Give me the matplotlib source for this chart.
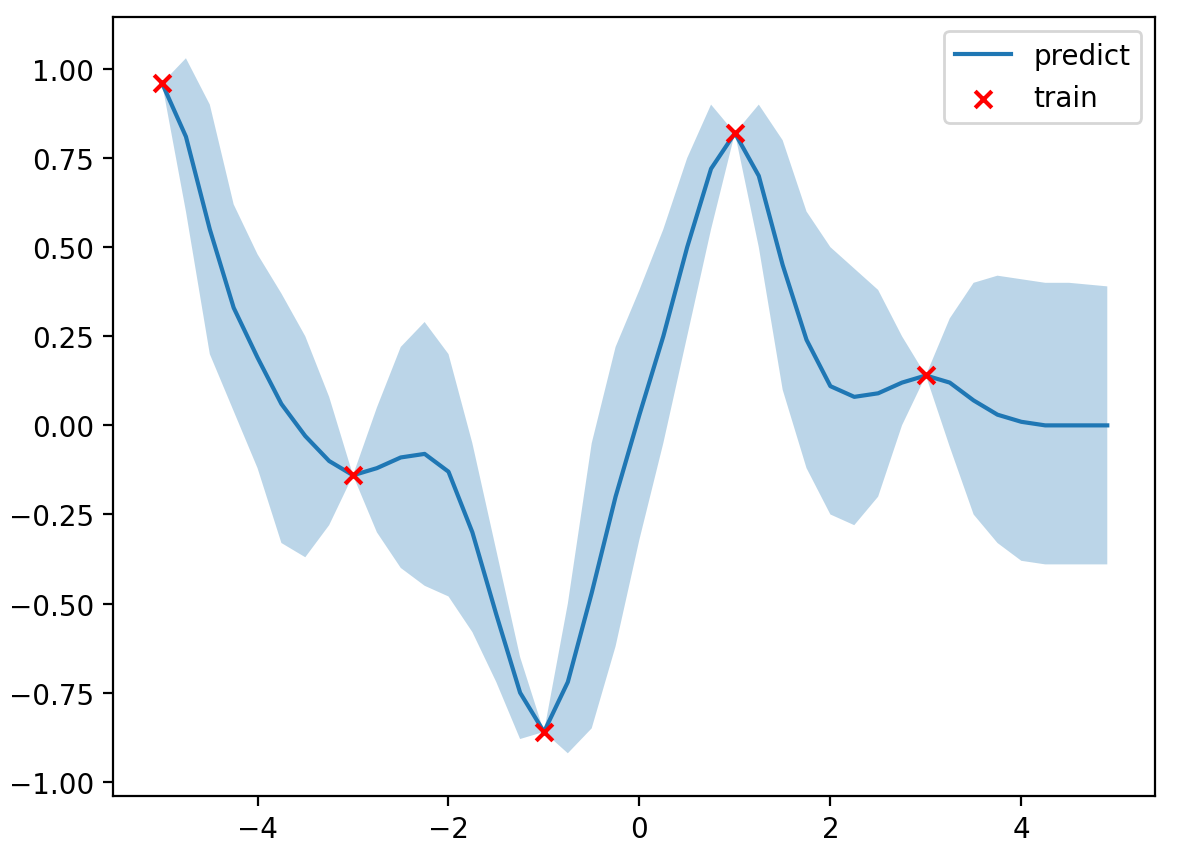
import matplotlib.pyplot as plt
import numpy as np

# training points
x_train = [-5, -3, -1, 1, 3]
y_train = [0.96, -0.14, -0.86, 0.82, 0.14]

# prediction
x_pred = [-5, -4.75, -4.5, -4.25, -4.0, -3.75, -3.5, -3.25, -3.0, -2.75, -2.5, -2.25,
          -2.0, -1.75, -1.5, -1.25, -1.0, -0.75, -0.5, -0.25, 0.0, 0.25, 0.5, 0.75,
          1.0, 1.25, 1.5, 1.75, 2.0, 2.25, 2.5, 2.75, 3.0, 3.25, 3.5, 3.75, 4.0,
          4.25, 4.5, 4.9]
y_mean = [0.96, 0.81, 0.55, 0.33, 0.19, 0.06, -0.03, -0.10, -0.14, -0.12, -0.09, -0.08,
          -0.13, -0.30, -0.53, -0.75, -0.86, -0.72, -0.47, -0.20, 0.03, 0.25, 0.50, 0.72,
          0.82, 0.70, 0.45, 0.24, 0.11, 0.08, 0.09, 0.12, 0.14, 0.12, 0.07, 0.03, 0.01,
          0.0, 0.0, 0.0]
y_upper = [0.96, 1.03, 0.90, 0.62, 0.48, 0.37, 0.25, 0.08, -0.14, 0.05, 0.22, 0.29,
           0.20, -0.05, -0.35, -0.65, -0.86, -0.50, -0.05, 0.22, 0.38, 0.55, 0.75, 0.90,
           0.82, 0.90, 0.80, 0.60, 0.50, 0.44, 0.38, 0.25, 0.14, 0.30, 0.40, 0.42, 0.41,
           0.40, 0.40, 0.39]
y_lower = [0.96, 0.60, 0.20, 0.04, -0.12, -0.33, -0.37, -0.28, -0.14, -0.30, -0.40, -0.45,
           -0.48, -0.58, -0.72, -0.88, -0.86, -0.92, -0.85, -0.62, -0.32, -0.05, 0.25, 0.55,
           0.82, 0.50, 0.10, -0.12, -0.25, -0.28, -0.20, 0.0, 0.14, -0.06, -0.25, -0.33, -0.38,
           -0.39, -0.39, -0.39]

fig = plt.figure(figsize=(5.905, 4.265), dpi=200)
ax = fig.add_subplot(111)
ax.fill_between(x_pred, y_lower, y_upper, alpha=0.3, lw=0)
ax.plot(x_pred, y_mean, label="predict")
ax.scatter(x_train, y_train, marker="x", c="red", label="train", zorder=3)
ax.set_xlim(-5.51, 5.40)
ax.set_ylim(-1.039, 1.146)
ax.legend(loc="upper right")
plt.subplots_adjust(left=0.096, right=0.978, top=0.979, bottom=0.066)
plt.savefig("out.png")
